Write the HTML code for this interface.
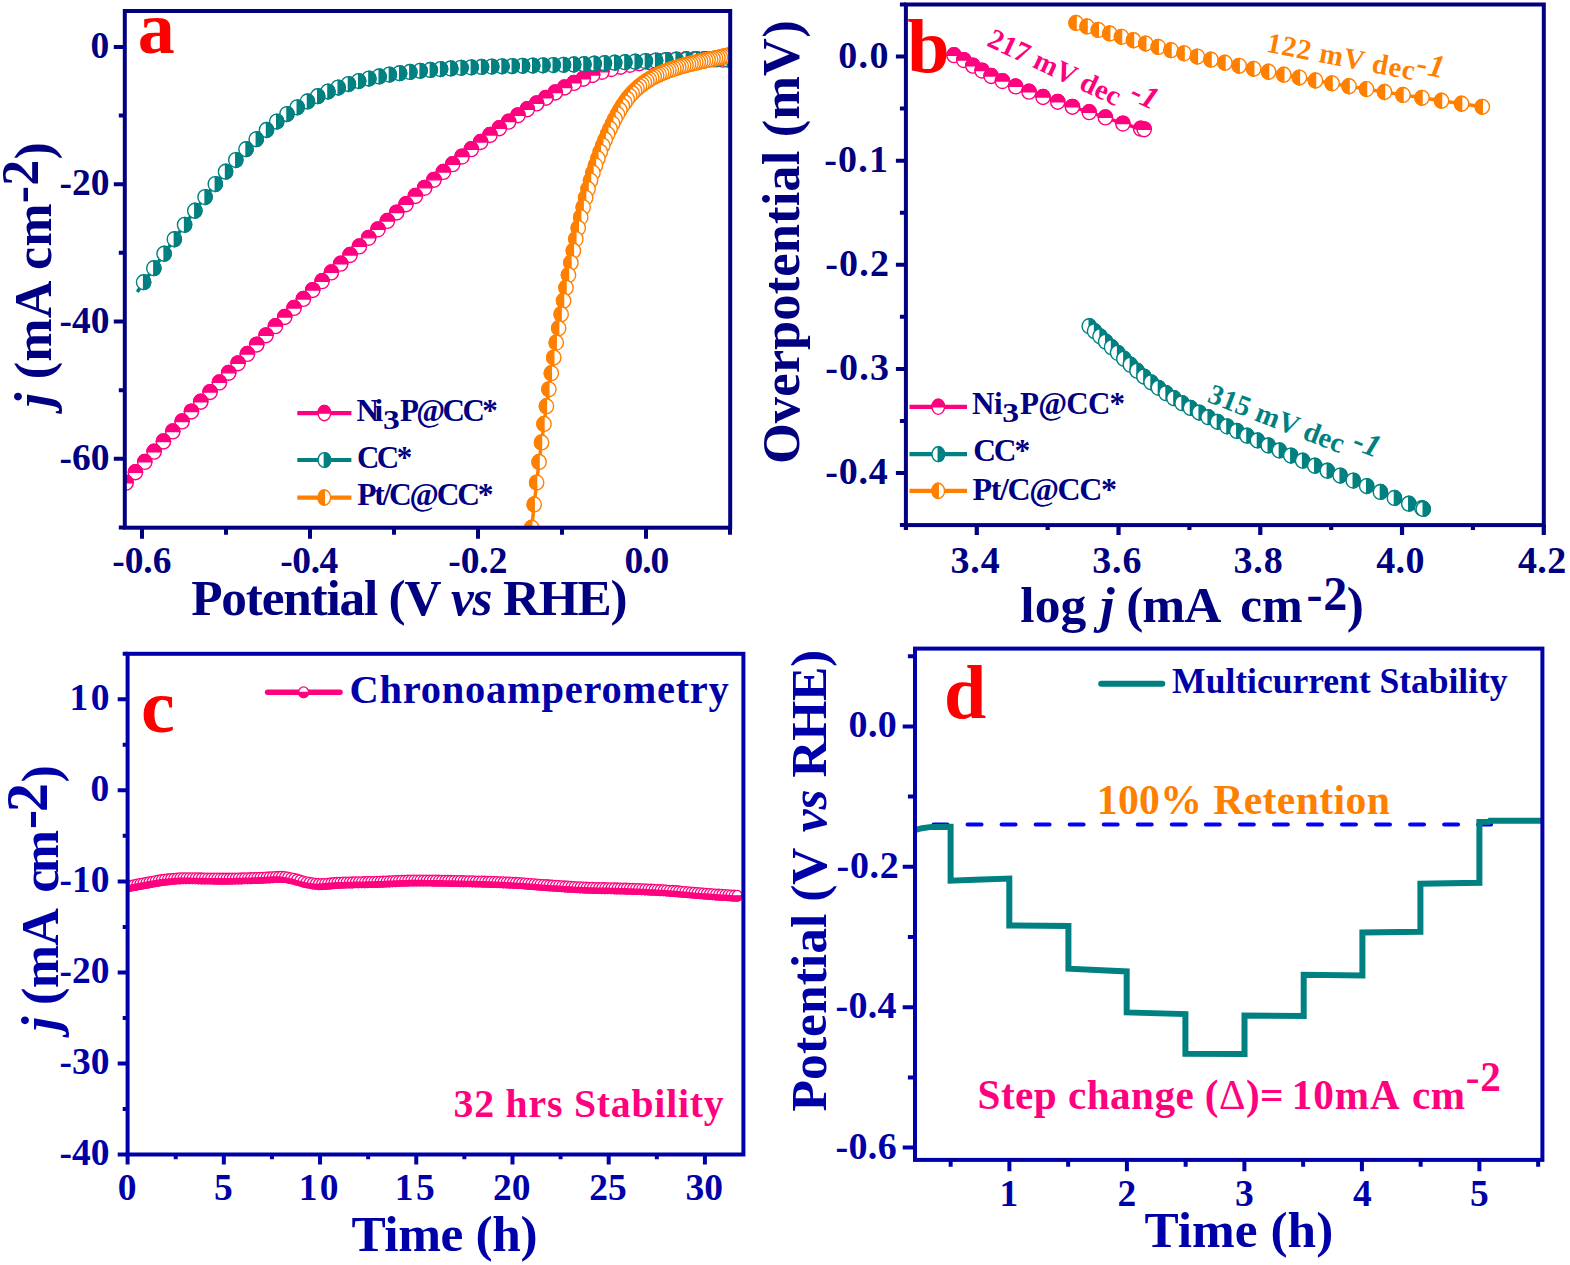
<!DOCTYPE html>
<html lang="en"><head><meta charset="utf-8"><title>Figure</title>
<style>
html,body{margin:0;padding:0;background:#fff;}
svg{display:block;}
svg text{font-family:"Liberation Serif","DejaVu Serif",serif;font-weight:bold;white-space:pre;}
</style></head><body>
<svg width="1570" height="1265" viewBox="0 0 1570 1265">
<defs>
<g id="mp"><ellipse rx="7.15" ry="7.45" fill="#fff" stroke="#ff007f" stroke-width="1.4"/><path d="M-7.15 0A7.15 7.45 0 0 1 7.15 0Z" fill="#ff007f" stroke="#ff007f" stroke-width="1.4"/></g>
<g id="mt"><ellipse rx="7.15" ry="7.45" fill="#fff" stroke="#008080" stroke-width="1.4"/><path d="M0 -7.45A7.15 7.45 0 0 1 0 7.45Z" fill="#008080" stroke="#008080" stroke-width="1.4"/></g>
<g id="mo"><ellipse rx="7.15" ry="7.45" fill="#fff" stroke="#ff8000" stroke-width="1.4"/><path d="M0 -7.45A7.15 7.45 0 0 0 0 7.45Z" fill="#ff8000" stroke="#ff8000" stroke-width="1.4"/></g>
<g id="mc"><ellipse rx="5.0" ry="5.4" fill="#fff" stroke="#ff007f" stroke-width="1.3"/><path d="M-5.0 0A5.0 5.4 0 0 0 5.0 0Z" fill="#ff007f" stroke="#ff007f" stroke-width="1.3"/></g>
<g id="mpl"><ellipse rx="6.3" ry="7.6" fill="#fff" stroke="#ff007f" stroke-width="1.4"/><path d="M-6.3 0A6.3 7.6 0 0 1 6.3 0Z" fill="#ff007f" stroke="#ff007f" stroke-width="1.4"/></g>
<g id="mtl"><ellipse rx="6.3" ry="7.4" fill="#fff" stroke="#008080" stroke-width="1.4"/><path d="M0 -7.4A6.3 7.4 0 0 1 0 7.4Z" fill="#008080" stroke="#008080" stroke-width="1.4"/></g>
<g id="mol"><ellipse rx="6.3" ry="7.6" fill="#fff" stroke="#ff8000" stroke-width="1.4"/><path d="M0 -7.6A6.3 7.6 0 0 0 0 7.6Z" fill="#ff8000" stroke="#ff8000" stroke-width="1.4"/></g>
<clipPath id="ca"><rect x="124.8" y="11" width="605.4" height="516.7"/></clipPath>
<clipPath id="cb"><rect x="905.9" y="4.5" width="637.9" height="520.6"/></clipPath>
<clipPath id="cc"><rect x="127.6" y="653.8" width="615.8" height="500.7"/></clipPath>
<clipPath id="cd"><rect x="915" y="648.6" width="627.4" height="511.3"/></clipPath>
</defs>
<rect width="1570" height="1265" fill="#fff"/>
<g clip-path="url(#ca)">
<path d="M723.22 59.69L713.89 59.42L704.56 59.27L695.23 59.26L685.9 59.4L676.57 59.72L667.24 60.24L657.91 60.98L648.58 61.98L639.25 63.26L629.92 64.85L620.59 66.79L611.26 69.11L601.93 71.86L592.6 75.07L583.27 78.76L573.94 82.91L564.61 87.5L555.28 92.48L545.95 97.8L536.62 103.4L527.29 109.25L517.96 115.34L508.63 121.67L499.3 128.23L489.97 135.01L480.64 142.01L471.31 149.22L461.98 156.61L452.65 164.19L443.32 171.94L433.99 179.83L424.66 187.86L415.33 196L406 204.24L396.67 212.56L387.34 220.94L378.01 229.37L368.68 237.86L359.35 246.4L350.02 255.01L340.69 263.68L331.36 272.4L322.03 281.19L312.7 290.05L303.37 298.97L294.04 307.95L284.71 317.01L275.38 326.13L266.05 335.32L256.72 344.59L247.39 353.93L238.06 363.34L228.73 372.83L219.4 382.4L210.07 392.04L200.74 401.77L191.41 411.58L182.08 421.47L172.75 431.45L163.42 441.52L154.09 451.68L144.76 461.92L135.43 472.26L126.1 482.7" fill="none" stroke="#ff007f" stroke-width="3.5" stroke-linejoin="round"/>
<use href="#mp" x="723.22" y="59.69"/><use href="#mp" x="713.89" y="59.42"/><use href="#mp" x="704.56" y="59.27"/><use href="#mp" x="695.23" y="59.26"/><use href="#mp" x="685.9" y="59.4"/><use href="#mp" x="676.57" y="59.72"/><use href="#mp" x="667.24" y="60.24"/><use href="#mp" x="657.91" y="60.98"/><use href="#mp" x="648.58" y="61.98"/><use href="#mp" x="639.25" y="63.26"/><use href="#mp" x="629.92" y="64.85"/><use href="#mp" x="620.59" y="66.79"/><use href="#mp" x="611.26" y="69.11"/><use href="#mp" x="601.93" y="71.86"/><use href="#mp" x="592.6" y="75.07"/><use href="#mp" x="583.27" y="78.76"/><use href="#mp" x="573.94" y="82.91"/><use href="#mp" x="564.61" y="87.5"/><use href="#mp" x="555.28" y="92.48"/><use href="#mp" x="545.95" y="97.8"/><use href="#mp" x="536.62" y="103.4"/><use href="#mp" x="527.29" y="109.25"/><use href="#mp" x="517.96" y="115.34"/><use href="#mp" x="508.63" y="121.67"/><use href="#mp" x="499.3" y="128.23"/><use href="#mp" x="489.97" y="135.01"/><use href="#mp" x="480.64" y="142.01"/><use href="#mp" x="471.31" y="149.22"/><use href="#mp" x="461.98" y="156.61"/><use href="#mp" x="452.65" y="164.19"/><use href="#mp" x="443.32" y="171.94"/><use href="#mp" x="433.99" y="179.83"/><use href="#mp" x="424.66" y="187.86"/><use href="#mp" x="415.33" y="196"/><use href="#mp" x="406" y="204.24"/><use href="#mp" x="396.67" y="212.56"/><use href="#mp" x="387.34" y="220.94"/><use href="#mp" x="378.01" y="229.37"/><use href="#mp" x="368.68" y="237.86"/><use href="#mp" x="359.35" y="246.4"/><use href="#mp" x="350.02" y="255.01"/><use href="#mp" x="340.69" y="263.68"/><use href="#mp" x="331.36" y="272.4"/><use href="#mp" x="322.03" y="281.19"/><use href="#mp" x="312.7" y="290.05"/><use href="#mp" x="303.37" y="298.97"/><use href="#mp" x="294.04" y="307.95"/><use href="#mp" x="284.71" y="317.01"/><use href="#mp" x="275.38" y="326.13"/><use href="#mp" x="266.05" y="335.32"/><use href="#mp" x="256.72" y="344.59"/><use href="#mp" x="247.39" y="353.93"/><use href="#mp" x="238.06" y="363.34"/><use href="#mp" x="228.73" y="372.83"/><use href="#mp" x="219.4" y="382.4"/><use href="#mp" x="210.07" y="392.04"/><use href="#mp" x="200.74" y="401.77"/><use href="#mp" x="191.41" y="411.58"/><use href="#mp" x="182.08" y="421.47"/><use href="#mp" x="172.75" y="431.45"/><use href="#mp" x="163.42" y="441.52"/><use href="#mp" x="154.09" y="451.68"/><use href="#mp" x="144.76" y="461.92"/><use href="#mp" x="135.43" y="472.26"/><use href="#mp" x="126.1" y="482.7"/>
</g>
<path d="M143.6 282.4L137.3 292" stroke="#008080" stroke-width="3.5" stroke-linecap="butt"/>
<g clip-path="url(#ca)">
<path d="M727.28 59.37L717.04 59.2L706.8 59.17L696.56 59.27L686.32 59.48L676.08 59.78L665.84 60.17L655.6 60.62L645.36 61.11L635.12 61.64L624.88 62.18L614.64 62.71L604.4 63.23L594.16 63.71L583.92 64.13L573.68 64.5L563.44 64.81L553.2 65.08L542.96 65.33L532.72 65.56L522.48 65.79L512.24 66.03L502 66.3L491.76 66.6L481.52 66.96L471.28 67.37L461.04 67.86L450.8 68.44L440.56 69.11L430.32 69.9L420.08 70.82L409.84 71.88L399.6 73.13L389.36 74.62L379.12 76.4L368.88 78.53L358.64 81.06L348.4 84.06L338.16 87.55L327.92 91.57L317.68 96.17L307.44 101.4L297.2 107.35L286.96 114.07L276.72 121.61L266.48 129.98L256.24 139.18L246 149.21L235.76 160.06L225.52 171.69L215.28 184.07L205.04 197.12L194.8 210.76L184.56 224.86L174.32 239.25L164.08 253.75L153.84 268.15L143.6 282.17" fill="none" stroke="#008080" stroke-width="3.5" stroke-linejoin="round"/>
<use href="#mt" x="727.28" y="59.37"/><use href="#mt" x="717.04" y="59.2"/><use href="#mt" x="706.8" y="59.17"/><use href="#mt" x="696.56" y="59.27"/><use href="#mt" x="686.32" y="59.48"/><use href="#mt" x="676.08" y="59.78"/><use href="#mt" x="665.84" y="60.17"/><use href="#mt" x="655.6" y="60.62"/><use href="#mt" x="645.36" y="61.11"/><use href="#mt" x="635.12" y="61.64"/><use href="#mt" x="624.88" y="62.18"/><use href="#mt" x="614.64" y="62.71"/><use href="#mt" x="604.4" y="63.23"/><use href="#mt" x="594.16" y="63.71"/><use href="#mt" x="583.92" y="64.13"/><use href="#mt" x="573.68" y="64.5"/><use href="#mt" x="563.44" y="64.81"/><use href="#mt" x="553.2" y="65.08"/><use href="#mt" x="542.96" y="65.33"/><use href="#mt" x="532.72" y="65.56"/><use href="#mt" x="522.48" y="65.79"/><use href="#mt" x="512.24" y="66.03"/><use href="#mt" x="502" y="66.3"/><use href="#mt" x="491.76" y="66.6"/><use href="#mt" x="481.52" y="66.96"/><use href="#mt" x="471.28" y="67.37"/><use href="#mt" x="461.04" y="67.86"/><use href="#mt" x="450.8" y="68.44"/><use href="#mt" x="440.56" y="69.11"/><use href="#mt" x="430.32" y="69.9"/><use href="#mt" x="420.08" y="70.82"/><use href="#mt" x="409.84" y="71.88"/><use href="#mt" x="399.6" y="73.13"/><use href="#mt" x="389.36" y="74.62"/><use href="#mt" x="379.12" y="76.4"/><use href="#mt" x="368.88" y="78.53"/><use href="#mt" x="358.64" y="81.06"/><use href="#mt" x="348.4" y="84.06"/><use href="#mt" x="338.16" y="87.55"/><use href="#mt" x="327.92" y="91.57"/><use href="#mt" x="317.68" y="96.17"/><use href="#mt" x="307.44" y="101.4"/><use href="#mt" x="297.2" y="107.35"/><use href="#mt" x="286.96" y="114.07"/><use href="#mt" x="276.72" y="121.61"/><use href="#mt" x="266.48" y="129.98"/><use href="#mt" x="256.24" y="139.18"/><use href="#mt" x="246" y="149.21"/><use href="#mt" x="235.76" y="160.06"/><use href="#mt" x="225.52" y="171.69"/><use href="#mt" x="215.28" y="184.07"/><use href="#mt" x="205.04" y="197.12"/><use href="#mt" x="194.8" y="210.76"/><use href="#mt" x="184.56" y="224.86"/><use href="#mt" x="174.32" y="239.25"/><use href="#mt" x="164.08" y="253.75"/><use href="#mt" x="153.84" y="268.15"/><use href="#mt" x="143.6" y="282.17"/>
</g>
<g clip-path="url(#ca)">
<path d="M730.2 55.15L727.75 55.69L725.3 56.23L722.85 56.76L720.4 57.28L717.95 57.8L715.5 58.31L713.05 58.82L710.6 59.33L708.15 59.85L705.7 60.37L703.25 60.9L700.8 61.44L698.35 61.99L695.9 62.55L693.45 63.13L691 63.73L688.55 64.35L686.1 64.99L683.65 65.66L681.2 66.36L678.75 67.09L676.3 67.85L673.85 68.64L671.4 69.48L668.95 70.36L666.5 71.29L664.05 72.27L661.6 73.3L659.15 74.39L656.7 75.55L654.25 76.78L651.8 78.09L649.35 79.5L646.9 81L644.45 82.63L642 84.39L639.55 86.31L637.1 88.41L634.65 90.72L632.2 93.27L629.75 96.05L627.3 99.1L624.85 102.43L622.4 106.06L619.95 109.99L617.5 114.24L615.05 118.79L612.6 123.64L610.15 128.74L607.7 134.08L605.25 139.7L602.8 145.6L600.35 151.83L597.9 158.42L595.45 165.38L593 172.77L590.55 180.62L588.1 188.97L585.65 197.86L583.2 207.31L580.75 217.35L578.3 227.96L575.85 239.12L573.4 250.74L570.95 262.7L568.5 275.01L566.05 287.68L563.6 300.75L561.15 314.24L558.7 328.18L556.25 342.62L553.8 357.59L551.35 373.15L548.9 389.34L546.45 406.24L544 423.91L541.55 442.45L539.1 461.97L536.65 482.58L534.2 504.45L531.75 527.75" fill="none" stroke="#ff8000" stroke-width="3.5" stroke-linejoin="round"/>
<use href="#mo" x="730.2" y="55.15"/><use href="#mo" x="727.75" y="55.69"/><use href="#mo" x="725.3" y="56.23"/><use href="#mo" x="722.85" y="56.76"/><use href="#mo" x="720.4" y="57.28"/><use href="#mo" x="717.95" y="57.8"/><use href="#mo" x="715.5" y="58.31"/><use href="#mo" x="713.05" y="58.82"/><use href="#mo" x="710.6" y="59.33"/><use href="#mo" x="708.15" y="59.85"/><use href="#mo" x="705.7" y="60.37"/><use href="#mo" x="703.25" y="60.9"/><use href="#mo" x="700.8" y="61.44"/><use href="#mo" x="698.35" y="61.99"/><use href="#mo" x="695.9" y="62.55"/><use href="#mo" x="693.45" y="63.13"/><use href="#mo" x="691" y="63.73"/><use href="#mo" x="688.55" y="64.35"/><use href="#mo" x="686.1" y="64.99"/><use href="#mo" x="683.65" y="65.66"/><use href="#mo" x="681.2" y="66.36"/><use href="#mo" x="678.75" y="67.09"/><use href="#mo" x="676.3" y="67.85"/><use href="#mo" x="673.85" y="68.64"/><use href="#mo" x="671.4" y="69.48"/><use href="#mo" x="668.95" y="70.36"/><use href="#mo" x="666.5" y="71.29"/><use href="#mo" x="664.05" y="72.27"/><use href="#mo" x="661.6" y="73.3"/><use href="#mo" x="659.15" y="74.39"/><use href="#mo" x="656.7" y="75.55"/><use href="#mo" x="654.25" y="76.78"/><use href="#mo" x="651.8" y="78.09"/><use href="#mo" x="649.35" y="79.5"/><use href="#mo" x="646.9" y="81"/><use href="#mo" x="644.45" y="82.63"/><use href="#mo" x="642" y="84.39"/><use href="#mo" x="639.55" y="86.31"/><use href="#mo" x="637.1" y="88.41"/><use href="#mo" x="634.65" y="90.72"/><use href="#mo" x="632.2" y="93.27"/><use href="#mo" x="629.75" y="96.05"/><use href="#mo" x="627.3" y="99.1"/><use href="#mo" x="624.85" y="102.43"/><use href="#mo" x="622.4" y="106.06"/><use href="#mo" x="619.95" y="109.99"/><use href="#mo" x="617.5" y="114.24"/><use href="#mo" x="615.05" y="118.79"/><use href="#mo" x="612.6" y="123.64"/><use href="#mo" x="610.15" y="128.74"/><use href="#mo" x="607.7" y="134.08"/><use href="#mo" x="605.25" y="139.7"/><use href="#mo" x="602.8" y="145.6"/><use href="#mo" x="600.35" y="151.83"/><use href="#mo" x="597.9" y="158.42"/><use href="#mo" x="595.45" y="165.38"/><use href="#mo" x="593" y="172.77"/><use href="#mo" x="590.55" y="180.62"/><use href="#mo" x="588.1" y="188.97"/><use href="#mo" x="585.65" y="197.86"/><use href="#mo" x="583.2" y="207.31"/><use href="#mo" x="580.75" y="217.35"/><use href="#mo" x="578.3" y="227.96"/><use href="#mo" x="575.85" y="239.12"/><use href="#mo" x="573.4" y="250.74"/><use href="#mo" x="570.95" y="262.7"/><use href="#mo" x="568.5" y="275.01"/><use href="#mo" x="566.05" y="287.68"/><use href="#mo" x="563.6" y="300.75"/><use href="#mo" x="561.15" y="314.24"/><use href="#mo" x="558.7" y="328.18"/><use href="#mo" x="556.25" y="342.62"/><use href="#mo" x="553.8" y="357.59"/><use href="#mo" x="551.35" y="373.15"/><use href="#mo" x="548.9" y="389.34"/><use href="#mo" x="546.45" y="406.24"/><use href="#mo" x="544" y="423.91"/><use href="#mo" x="541.55" y="442.45"/><use href="#mo" x="539.1" y="461.97"/><use href="#mo" x="536.65" y="482.58"/><use href="#mo" x="534.2" y="504.45"/><use href="#mo" x="531.75" y="527.75"/>
</g>
<rect x="124.8" y="11" width="605.4" height="516.7" fill="none" stroke="#000080" stroke-width="4"/>
<path d="M142 527.7v11M310 527.7v11M478 527.7v11M646 527.7v11" stroke="#000080" stroke-width="4" fill="none"/>
<path d="M226 527.7v7M394 527.7v7M562 527.7v7M730 527.7v7" stroke="#000080" stroke-width="4" fill="none"/>
<path d="M124.8 46.9h-11M124.8 184.2h-11M124.8 321.5h-11M124.8 458.8h-11" stroke="#000080" stroke-width="4" fill="none"/>
<path d="M124.8 115.55h-6M124.8 252.85h-6M124.8 390.15h-6M124.8 527.45h-6" stroke="#000080" stroke-width="4" fill="none"/>
<text x="112.2" y="572.8" font-size="37.5" fill="#000080" textLength="59.18" lengthAdjust="spacing">-0.6</text>
<text x="280.2" y="572.8" font-size="37.5" fill="#000080" textLength="58.14" lengthAdjust="spacing">-0.4</text>
<text x="448.2" y="572.8" font-size="37.5" fill="#000080" textLength="59.18" lengthAdjust="spacing">-0.2</text>
<text x="624.5" y="572.8" font-size="37.5" fill="#000080" textLength="44.86" lengthAdjust="spacing">0.0</text>
<text x="90.6" y="58" font-size="37.5" fill="#000080">0</text>
<text x="59.6" y="195.3" font-size="37.5" fill="#000080">-20</text>
<text x="59.6" y="332.6" font-size="37.5" fill="#000080">-40</text>
<text x="59.6" y="469.9" font-size="37.5" fill="#000080">-60</text>
<text x="191.2" y="614.8" font-size="51.3" fill="#000080" textLength="436.33" lengthAdjust="spacing">Potential (V <tspan font-style="italic">vs</tspan> RHE)</text>
<text x="51.2" y="407.2" font-size="52" fill="#000080" textLength="265.1" lengthAdjust="spacing" transform="rotate(-90 51.2 407.2)"><tspan font-style="italic">j</tspan> (mA cm<tspan dy="-0.26em">-2</tspan><tspan dy="0.26em">)</tspan></text>
<text x="137.7" y="52.6" font-size="74" fill="#ff0000">a</text>
<path d="M297.3 413.1H351.4" stroke="#ff007f" stroke-width="4.2"/>
<use href="#mpl" x="324.35" y="413.1"/>
<path d="M297.3 460H351.4" stroke="#008080" stroke-width="4.2"/>
<use href="#mtl" x="324.35" y="460"/>
<path d="M297.3 497.6H351.4" stroke="#ff8000" stroke-width="4.2"/>
<use href="#mol" x="324.35" y="497.6"/>
<text x="356.6" y="420.5" font-size="31" fill="#000080" textLength="26.56" lengthAdjust="spacing">Ni</text>
<text transform="translate(383.09 429.15) scale(0.3364 0.2765)" font-size="100" fill="#000080">3</text>
<text x="399.9" y="420.5" font-size="31" fill="#000080" textLength="97.92" lengthAdjust="spacing">P@CC*</text>
<text x="357" y="467.5" font-size="31" fill="#000080" textLength="55.22" lengthAdjust="spacing">CC*</text>
<text x="357.3" y="504.5" font-size="31.5" fill="#000080" textLength="136.09" lengthAdjust="spacing">Pt/C@CC*</text>
<g clip-path="url(#cb)">
<path d="M954 55.2L963.8 60.1L972.9 65.7L982 70.6L991.1 76L1002.4 81.1L1015.7 86.4L1029 91.7L1043 97L1057.7 101.8L1072.4 106.8L1089.2 112.2L1105.4 117.4L1122.9 123.6L1140.7 128.7L1144.2 129.3" fill="none" stroke="#ff007f" stroke-width="3.5" stroke-linejoin="round"/>
<use href="#mp" x="954" y="55.2"/><use href="#mp" x="963.8" y="60.1"/><use href="#mp" x="972.9" y="65.7"/><use href="#mp" x="982" y="70.6"/><use href="#mp" x="991.1" y="76"/><use href="#mp" x="1002.4" y="81.1"/><use href="#mp" x="1015.7" y="86.4"/><use href="#mp" x="1029" y="91.7"/><use href="#mp" x="1043" y="97"/><use href="#mp" x="1057.7" y="101.8"/><use href="#mp" x="1072.4" y="106.8"/><use href="#mp" x="1089.2" y="112.2"/><use href="#mp" x="1105.4" y="117.4"/><use href="#mp" x="1122.9" y="123.6"/><use href="#mp" x="1140.7" y="128.7"/><use href="#mp" x="1144.2" y="129.3"/>
</g>
<g clip-path="url(#cb)">
<path d="M1076.1 22.92L1087.09 26.46L1098.33 29.96L1109.8 33.43L1121.53 36.86L1133.51 40.24L1145.75 43.59L1158.26 46.89L1171.04 50.15L1184.09 53.36L1197.43 56.54L1211.06 59.66L1224.99 62.75L1239.22 65.79L1253.76 68.79L1268.62 71.75L1283.83 74.68L1299.47 77.59L1315.55 80.48L1332.09 83.37L1349.09 86.24L1366.57 89.12L1384.54 92L1403.02 94.89L1422.02 97.8L1441.56 100.75L1461.65 103.75L1482.3 106.8" fill="none" stroke="#ff8000" stroke-width="3.5" stroke-linejoin="round"/>
<use href="#mo" x="1076.1" y="22.92"/><use href="#mo" x="1087.09" y="26.46"/><use href="#mo" x="1098.33" y="29.96"/><use href="#mo" x="1109.8" y="33.43"/><use href="#mo" x="1121.53" y="36.86"/><use href="#mo" x="1133.51" y="40.24"/><use href="#mo" x="1145.75" y="43.59"/><use href="#mo" x="1158.26" y="46.89"/><use href="#mo" x="1171.04" y="50.15"/><use href="#mo" x="1184.09" y="53.36"/><use href="#mo" x="1197.43" y="56.54"/><use href="#mo" x="1211.06" y="59.66"/><use href="#mo" x="1224.99" y="62.75"/><use href="#mo" x="1239.22" y="65.79"/><use href="#mo" x="1253.76" y="68.79"/><use href="#mo" x="1268.62" y="71.75"/><use href="#mo" x="1283.83" y="74.68"/><use href="#mo" x="1299.47" y="77.59"/><use href="#mo" x="1315.55" y="80.48"/><use href="#mo" x="1332.09" y="83.37"/><use href="#mo" x="1349.09" y="86.24"/><use href="#mo" x="1366.57" y="89.12"/><use href="#mo" x="1384.54" y="92"/><use href="#mo" x="1403.02" y="94.89"/><use href="#mo" x="1422.02" y="97.8"/><use href="#mo" x="1441.56" y="100.75"/><use href="#mo" x="1461.65" y="103.75"/><use href="#mo" x="1482.3" y="106.8"/>
</g>
<g clip-path="url(#cb)">
<path d="M1089.2 326.15L1094.53 331.13L1100.01 336.29L1105.68 341.64L1111.53 347.17L1117.59 352.87L1123.84 358.73L1130.3 364.69L1136.98 370.67L1143.89 376.58L1151.02 382.34L1158.4 387.86L1166.02 393.14L1173.9 398.21L1182.04 403.13L1190.45 407.91L1199.15 412.59L1208.12 417.2L1217.37 421.78L1226.92 426.36L1236.77 430.97L1246.93 435.66L1257.41 440.46L1268.21 445.4L1279.33 450.45L1290.79 455.55L1302.6 460.67L1314.75 465.74L1327.27 470.71L1340.11 475.58L1353.23 480.61L1366.65 486.09L1380.38 491.94L1394.41 497.9L1408.75 503.7L1421.8 508.2L1423.2 508.93" fill="none" stroke="#008080" stroke-width="3.5" stroke-linejoin="round"/>
<use href="#mt" x="1089.2" y="326.15"/><use href="#mt" x="1094.53" y="331.13"/><use href="#mt" x="1100.01" y="336.29"/><use href="#mt" x="1105.68" y="341.64"/><use href="#mt" x="1111.53" y="347.17"/><use href="#mt" x="1117.59" y="352.87"/><use href="#mt" x="1123.84" y="358.73"/><use href="#mt" x="1130.3" y="364.69"/><use href="#mt" x="1136.98" y="370.67"/><use href="#mt" x="1143.89" y="376.58"/><use href="#mt" x="1151.02" y="382.34"/><use href="#mt" x="1158.4" y="387.86"/><use href="#mt" x="1166.02" y="393.14"/><use href="#mt" x="1173.9" y="398.21"/><use href="#mt" x="1182.04" y="403.13"/><use href="#mt" x="1190.45" y="407.91"/><use href="#mt" x="1199.15" y="412.59"/><use href="#mt" x="1208.12" y="417.2"/><use href="#mt" x="1217.37" y="421.78"/><use href="#mt" x="1226.92" y="426.36"/><use href="#mt" x="1236.77" y="430.97"/><use href="#mt" x="1246.93" y="435.66"/><use href="#mt" x="1257.41" y="440.46"/><use href="#mt" x="1268.21" y="445.4"/><use href="#mt" x="1279.33" y="450.45"/><use href="#mt" x="1290.79" y="455.55"/><use href="#mt" x="1302.6" y="460.67"/><use href="#mt" x="1314.75" y="465.74"/><use href="#mt" x="1327.27" y="470.71"/><use href="#mt" x="1340.11" y="475.58"/><use href="#mt" x="1353.23" y="480.61"/><use href="#mt" x="1366.65" y="486.09"/><use href="#mt" x="1380.38" y="491.94"/><use href="#mt" x="1394.41" y="497.9"/><use href="#mt" x="1408.75" y="503.7"/><use href="#mt" x="1421.8" y="508.2"/><use href="#mt" x="1423.2" y="508.93"/>
</g>
<rect x="905.9" y="4.5" width="637.9" height="520.6" fill="none" stroke="#000080" stroke-width="4"/>
<path d="M976.78 525.1v9.8M1118.53 525.1v9.8M1260.29 525.1v9.8M1402.04 525.1v9.8M1543.8 525.1v9.8" stroke="#000080" stroke-width="4.2" fill="none"/>
<path d="M905.9 525.1v4.8M1047.66 525.1v4.8M1189.41 525.1v4.8M1331.17 525.1v4.8M1472.92 525.1v4.8" stroke="#000080" stroke-width="4.2" fill="none"/>
<path d="M905.9 56.56h-10M905.9 160.68h-10M905.9 264.8h-10M905.9 368.92h-10M905.9 473.04h-10" stroke="#000080" stroke-width="4" fill="none"/>
<path d="M905.9 4.5h-6M905.9 108.62h-6M905.9 212.74h-6M905.9 316.86h-6M905.9 420.98h-6M905.9 525.1h-6" stroke="#000080" stroke-width="4" fill="none"/>
<text x="950.48" y="573" font-size="38" fill="#000080" textLength="49.19" lengthAdjust="spacing">3.4</text>
<text x="1092.23" y="573" font-size="38" fill="#000080" textLength="49.23" lengthAdjust="spacing">3.6</text>
<text x="1233.49" y="573" font-size="38" fill="#000080" textLength="49.26" lengthAdjust="spacing">3.8</text>
<text x="1376.24" y="573" font-size="38" fill="#000080" textLength="48.16" lengthAdjust="spacing">4.0</text>
<text x="1518" y="573" font-size="38" fill="#000080" textLength="48.16" lengthAdjust="spacing">4.2</text>
<text x="838.2" y="67.76" font-size="38" fill="#000080" textLength="50.28" lengthAdjust="spacing">0.0</text>
<text x="824.2" y="171.88" font-size="38" fill="#000080" textLength="63.87" lengthAdjust="spacing">-0.1</text>
<text x="825.2" y="276" font-size="38" fill="#000080" textLength="63.74" lengthAdjust="spacing">-0.2</text>
<text x="825.2" y="380.12" font-size="38" fill="#000080" textLength="63.74" lengthAdjust="spacing">-0.3</text>
<text x="825.2" y="484.24" font-size="38" fill="#000080" textLength="62.64" lengthAdjust="spacing">-0.4</text>
<text x="1020.3" y="621.6" font-size="51.5" fill="#000080" textLength="65.9" lengthAdjust="spacing">log</text>
<text x="1100.2" y="621.6" font-size="51.5" fill="#000080" textLength="25.01" lengthAdjust="spacing"><tspan font-style="italic">j</tspan></text>
<text x="1126.3" y="621.6" font-size="51.5" fill="#000080" textLength="95.06" lengthAdjust="spacing">(mA</text>
<text transform="translate(1240.35 621.6) scale(0.9484 1)" font-size="51.5" fill="#000080">cm</text>
<text x="1306.6" y="609.8" font-size="48" fill="#000080" textLength="40.56" lengthAdjust="spacing">-2</text>
<text x="1346.8" y="621.6" font-size="51.5" fill="#000080" textLength="22.27" lengthAdjust="spacing">)</text>
<text x="799.2" y="464.1" font-size="52.5" fill="#000080" textLength="443.73" lengthAdjust="spacing" transform="rotate(-90 799.2 464.1)">Overpotential (mV)</text>
<text x="907.3" y="72" font-size="76" fill="#ff0000">b</text>
<text x="985.7" y="45.27" font-size="28.6" fill="#ff007f" textLength="178.51" lengthAdjust="spacing" transform="rotate(25.2 985.7 45.27)">217 mV dec<tspan dy="-0.38em" font-style="italic" style="font-size:1.12em"> -1</tspan></text>
<text x="1265.54" y="51.62" font-size="28.6" fill="#ff8000" textLength="178.64" lengthAdjust="spacing" transform="rotate(11 1265.54 51.62)">122 mV dec<tspan dy="-0.24em" font-style="italic" style="font-size:1.12em">-1</tspan></text>
<text x="1206.37" y="401.64" font-size="28.6" fill="#008080" textLength="178.51" lengthAdjust="spacing" transform="rotate(21.2 1206.37 401.64)">315 mV dec<tspan dy="-0.27em" font-style="italic" style="font-size:1.12em"> -1</tspan></text>
<path d="M909.5 406.8H967" stroke="#ff007f" stroke-width="4.2"/>
<use href="#mpl" x="938.25" y="406.8"/>
<path d="M909.5 454.2H967" stroke="#008080" stroke-width="4.2"/>
<use href="#mtl" x="938.25" y="454.2"/>
<path d="M909.5 490.9H967" stroke="#ff8000" stroke-width="4.2"/>
<use href="#mol" x="938.25" y="490.9"/>
<text x="972.1" y="414.1" font-size="31" fill="#000080" textLength="30.43" lengthAdjust="spacing">Ni</text>
<text transform="translate(1002.19 421.64) scale(0.3364 0.2779)" font-size="100" fill="#000080">3</text>
<text x="1020" y="414.1" font-size="31" fill="#000080" textLength="105.1" lengthAdjust="spacing">P@CC*</text>
<text x="973.2" y="461" font-size="31.5" fill="#000080" textLength="57.07" lengthAdjust="spacing">CC*</text>
<text x="972.6" y="499.6" font-size="32" fill="#000080" textLength="144.39" lengthAdjust="spacing">Pt/C@CC*</text>
<g clip-path="url(#cc)">
<path d="M127.6 886.4L130.68 885.78L133.76 885.18L136.84 884.59L139.92 884.01L143 883.45L146.07 882.89L149.15 882.34L152.23 881.76L155.31 881.19L158.39 880.64L161.47 880.15L164.55 879.74L167.63 879.42L170.71 879.11L173.78 878.81L176.86 878.56L179.94 878.36L183.02 878.23L186.1 878.21L189.18 878.22L192.26 878.24L195.34 878.28L198.42 878.33L201.5 878.38L204.57 878.43L207.65 878.49L210.73 878.54L213.81 878.58L216.89 878.62L219.97 878.65L223.05 878.66L226.13 878.65L229.21 878.63L232.29 878.59L235.37 878.54L238.44 878.48L241.52 878.4L244.6 878.32L247.68 878.23L250.76 878.13L253.84 878.03L256.92 877.93L260 877.83L263.08 877.72L266.15 877.57L269.23 877.39L272.31 877.19L275.39 877.02L278.47 876.89L281.55 876.84L284.63 877.04L287.71 877.54L290.79 878.18L293.87 878.82L296.94 879.63L300.02 880.57L303.1 881.49L306.18 882.23L309.26 882.8L312.34 883.36L315.42 883.81L318.5 884.08L321.58 884.1L324.66 883.96L327.74 883.71L330.81 883.42L333.89 883.12L336.97 882.88L340.05 882.73L343.13 882.62L346.21 882.53L349.29 882.45L352.37 882.38L355.45 882.32L358.52 882.26L361.6 882.2L364.68 882.14L367.76 882.08L370.84 882.02L373.92 881.95L377 881.87L380.08 881.77L383.16 881.66L386.24 881.53L389.31 881.39L392.39 881.24L395.47 881.1L398.55 880.96L401.63 880.82L404.71 880.71L407.79 880.61L410.87 880.53L413.95 880.49L417.03 880.48L420.11 880.49L423.18 880.5L426.26 880.52L429.34 880.55L432.42 880.58L435.5 880.62L438.58 880.66L441.66 880.71L444.74 880.77L447.82 880.82L450.89 880.88L453.97 880.95L457.05 881.01L460.13 881.08L463.21 881.15L466.29 881.22L469.37 881.29L472.45 881.36L475.53 881.43L478.61 881.5L481.69 881.59L484.76 881.67L487.84 881.77L490.92 881.87L494 881.98L497.08 882.1L500.16 882.22L503.24 882.34L506.32 882.48L509.4 882.61L512.48 882.76L515.55 882.91L518.63 883.1L521.71 883.3L524.79 883.51L527.87 883.74L530.95 883.98L534.03 884.22L537.11 884.47L540.19 884.71L543.26 884.94L546.34 885.17L549.42 885.39L552.5 885.59L555.58 885.79L558.66 886L561.74 886.21L564.82 886.42L567.9 886.62L570.98 886.82L574.05 887.01L577.13 887.19L580.21 887.36L583.29 887.51L586.37 887.65L589.45 887.76L592.53 887.86L595.61 887.95L598.69 888.02L601.77 888.09L604.85 888.15L607.92 888.21L611 888.27L614.08 888.33L617.16 888.4L620.24 888.47L623.32 888.54L626.4 888.63L629.48 888.72L632.56 888.83L635.63 888.94L638.71 889.07L641.79 889.2L644.87 889.34L647.95 889.48L651.03 889.64L654.11 889.8L657.19 889.96L660.27 890.13L663.35 890.31L666.42 890.49L669.5 890.69L672.58 890.91L675.66 891.16L678.74 891.41L681.82 891.68L684.9 891.96L687.98 892.24L691.06 892.52L694.14 892.79L697.22 893.06L700.29 893.32L703.37 893.57L706.45 893.79L709.53 894.01L712.61 894.23L715.69 894.45L718.77 894.66L721.85 894.86L724.93 895.06L728 895.26L731.08 895.45L734.16 895.64L737.24 895.82" fill="none" stroke="#ff007f" stroke-width="5.5" stroke-linejoin="round"/>
<use href="#mc" x="127.6" y="886.4"/><use href="#mc" x="130.68" y="885.78"/><use href="#mc" x="133.76" y="885.18"/><use href="#mc" x="136.84" y="884.59"/><use href="#mc" x="139.92" y="884.01"/><use href="#mc" x="143" y="883.45"/><use href="#mc" x="146.07" y="882.89"/><use href="#mc" x="149.15" y="882.34"/><use href="#mc" x="152.23" y="881.76"/><use href="#mc" x="155.31" y="881.19"/><use href="#mc" x="158.39" y="880.64"/><use href="#mc" x="161.47" y="880.15"/><use href="#mc" x="164.55" y="879.74"/><use href="#mc" x="167.63" y="879.42"/><use href="#mc" x="170.71" y="879.11"/><use href="#mc" x="173.78" y="878.81"/><use href="#mc" x="176.86" y="878.56"/><use href="#mc" x="179.94" y="878.36"/><use href="#mc" x="183.02" y="878.23"/><use href="#mc" x="186.1" y="878.21"/><use href="#mc" x="189.18" y="878.22"/><use href="#mc" x="192.26" y="878.24"/><use href="#mc" x="195.34" y="878.28"/><use href="#mc" x="198.42" y="878.33"/><use href="#mc" x="201.5" y="878.38"/><use href="#mc" x="204.57" y="878.43"/><use href="#mc" x="207.65" y="878.49"/><use href="#mc" x="210.73" y="878.54"/><use href="#mc" x="213.81" y="878.58"/><use href="#mc" x="216.89" y="878.62"/><use href="#mc" x="219.97" y="878.65"/><use href="#mc" x="223.05" y="878.66"/><use href="#mc" x="226.13" y="878.65"/><use href="#mc" x="229.21" y="878.63"/><use href="#mc" x="232.29" y="878.59"/><use href="#mc" x="235.37" y="878.54"/><use href="#mc" x="238.44" y="878.48"/><use href="#mc" x="241.52" y="878.4"/><use href="#mc" x="244.6" y="878.32"/><use href="#mc" x="247.68" y="878.23"/><use href="#mc" x="250.76" y="878.13"/><use href="#mc" x="253.84" y="878.03"/><use href="#mc" x="256.92" y="877.93"/><use href="#mc" x="260" y="877.83"/><use href="#mc" x="263.08" y="877.72"/><use href="#mc" x="266.15" y="877.57"/><use href="#mc" x="269.23" y="877.39"/><use href="#mc" x="272.31" y="877.19"/><use href="#mc" x="275.39" y="877.02"/><use href="#mc" x="278.47" y="876.89"/><use href="#mc" x="281.55" y="876.84"/><use href="#mc" x="284.63" y="877.04"/><use href="#mc" x="287.71" y="877.54"/><use href="#mc" x="290.79" y="878.18"/><use href="#mc" x="293.87" y="878.82"/><use href="#mc" x="296.94" y="879.63"/><use href="#mc" x="300.02" y="880.57"/><use href="#mc" x="303.1" y="881.49"/><use href="#mc" x="306.18" y="882.23"/><use href="#mc" x="309.26" y="882.8"/><use href="#mc" x="312.34" y="883.36"/><use href="#mc" x="315.42" y="883.81"/><use href="#mc" x="318.5" y="884.08"/><use href="#mc" x="321.58" y="884.1"/><use href="#mc" x="324.66" y="883.96"/><use href="#mc" x="327.74" y="883.71"/><use href="#mc" x="330.81" y="883.42"/><use href="#mc" x="333.89" y="883.12"/><use href="#mc" x="336.97" y="882.88"/><use href="#mc" x="340.05" y="882.73"/><use href="#mc" x="343.13" y="882.62"/><use href="#mc" x="346.21" y="882.53"/><use href="#mc" x="349.29" y="882.45"/><use href="#mc" x="352.37" y="882.38"/><use href="#mc" x="355.45" y="882.32"/><use href="#mc" x="358.52" y="882.26"/><use href="#mc" x="361.6" y="882.2"/><use href="#mc" x="364.68" y="882.14"/><use href="#mc" x="367.76" y="882.08"/><use href="#mc" x="370.84" y="882.02"/><use href="#mc" x="373.92" y="881.95"/><use href="#mc" x="377" y="881.87"/><use href="#mc" x="380.08" y="881.77"/><use href="#mc" x="383.16" y="881.66"/><use href="#mc" x="386.24" y="881.53"/><use href="#mc" x="389.31" y="881.39"/><use href="#mc" x="392.39" y="881.24"/><use href="#mc" x="395.47" y="881.1"/><use href="#mc" x="398.55" y="880.96"/><use href="#mc" x="401.63" y="880.82"/><use href="#mc" x="404.71" y="880.71"/><use href="#mc" x="407.79" y="880.61"/><use href="#mc" x="410.87" y="880.53"/><use href="#mc" x="413.95" y="880.49"/><use href="#mc" x="417.03" y="880.48"/><use href="#mc" x="420.11" y="880.49"/><use href="#mc" x="423.18" y="880.5"/><use href="#mc" x="426.26" y="880.52"/><use href="#mc" x="429.34" y="880.55"/><use href="#mc" x="432.42" y="880.58"/><use href="#mc" x="435.5" y="880.62"/><use href="#mc" x="438.58" y="880.66"/><use href="#mc" x="441.66" y="880.71"/><use href="#mc" x="444.74" y="880.77"/><use href="#mc" x="447.82" y="880.82"/><use href="#mc" x="450.89" y="880.88"/><use href="#mc" x="453.97" y="880.95"/><use href="#mc" x="457.05" y="881.01"/><use href="#mc" x="460.13" y="881.08"/><use href="#mc" x="463.21" y="881.15"/><use href="#mc" x="466.29" y="881.22"/><use href="#mc" x="469.37" y="881.29"/><use href="#mc" x="472.45" y="881.36"/><use href="#mc" x="475.53" y="881.43"/><use href="#mc" x="478.61" y="881.5"/><use href="#mc" x="481.69" y="881.59"/><use href="#mc" x="484.76" y="881.67"/><use href="#mc" x="487.84" y="881.77"/><use href="#mc" x="490.92" y="881.87"/><use href="#mc" x="494" y="881.98"/><use href="#mc" x="497.08" y="882.1"/><use href="#mc" x="500.16" y="882.22"/><use href="#mc" x="503.24" y="882.34"/><use href="#mc" x="506.32" y="882.48"/><use href="#mc" x="509.4" y="882.61"/><use href="#mc" x="512.48" y="882.76"/><use href="#mc" x="515.55" y="882.91"/><use href="#mc" x="518.63" y="883.1"/><use href="#mc" x="521.71" y="883.3"/><use href="#mc" x="524.79" y="883.51"/><use href="#mc" x="527.87" y="883.74"/><use href="#mc" x="530.95" y="883.98"/><use href="#mc" x="534.03" y="884.22"/><use href="#mc" x="537.11" y="884.47"/><use href="#mc" x="540.19" y="884.71"/><use href="#mc" x="543.26" y="884.94"/><use href="#mc" x="546.34" y="885.17"/><use href="#mc" x="549.42" y="885.39"/><use href="#mc" x="552.5" y="885.59"/><use href="#mc" x="555.58" y="885.79"/><use href="#mc" x="558.66" y="886"/><use href="#mc" x="561.74" y="886.21"/><use href="#mc" x="564.82" y="886.42"/><use href="#mc" x="567.9" y="886.62"/><use href="#mc" x="570.98" y="886.82"/><use href="#mc" x="574.05" y="887.01"/><use href="#mc" x="577.13" y="887.19"/><use href="#mc" x="580.21" y="887.36"/><use href="#mc" x="583.29" y="887.51"/><use href="#mc" x="586.37" y="887.65"/><use href="#mc" x="589.45" y="887.76"/><use href="#mc" x="592.53" y="887.86"/><use href="#mc" x="595.61" y="887.95"/><use href="#mc" x="598.69" y="888.02"/><use href="#mc" x="601.77" y="888.09"/><use href="#mc" x="604.85" y="888.15"/><use href="#mc" x="607.92" y="888.21"/><use href="#mc" x="611" y="888.27"/><use href="#mc" x="614.08" y="888.33"/><use href="#mc" x="617.16" y="888.4"/><use href="#mc" x="620.24" y="888.47"/><use href="#mc" x="623.32" y="888.54"/><use href="#mc" x="626.4" y="888.63"/><use href="#mc" x="629.48" y="888.72"/><use href="#mc" x="632.56" y="888.83"/><use href="#mc" x="635.63" y="888.94"/><use href="#mc" x="638.71" y="889.07"/><use href="#mc" x="641.79" y="889.2"/><use href="#mc" x="644.87" y="889.34"/><use href="#mc" x="647.95" y="889.48"/><use href="#mc" x="651.03" y="889.64"/><use href="#mc" x="654.11" y="889.8"/><use href="#mc" x="657.19" y="889.96"/><use href="#mc" x="660.27" y="890.13"/><use href="#mc" x="663.35" y="890.31"/><use href="#mc" x="666.42" y="890.49"/><use href="#mc" x="669.5" y="890.69"/><use href="#mc" x="672.58" y="890.91"/><use href="#mc" x="675.66" y="891.16"/><use href="#mc" x="678.74" y="891.41"/><use href="#mc" x="681.82" y="891.68"/><use href="#mc" x="684.9" y="891.96"/><use href="#mc" x="687.98" y="892.24"/><use href="#mc" x="691.06" y="892.52"/><use href="#mc" x="694.14" y="892.79"/><use href="#mc" x="697.22" y="893.06"/><use href="#mc" x="700.29" y="893.32"/><use href="#mc" x="703.37" y="893.57"/><use href="#mc" x="706.45" y="893.79"/><use href="#mc" x="709.53" y="894.01"/><use href="#mc" x="712.61" y="894.23"/><use href="#mc" x="715.69" y="894.45"/><use href="#mc" x="718.77" y="894.66"/><use href="#mc" x="721.85" y="894.86"/><use href="#mc" x="724.93" y="895.06"/><use href="#mc" x="728" y="895.26"/><use href="#mc" x="731.08" y="895.45"/><use href="#mc" x="734.16" y="895.64"/><use href="#mc" x="737.24" y="895.82"/>
</g>
<rect x="127.6" y="653.8" width="615.8" height="500.7" fill="none" stroke="#0000a8" stroke-width="4"/>
<path d="M127.6 1154.5v9.9M223.82 1154.5v9.9M320.04 1154.5v9.9M416.26 1154.5v9.9M512.48 1154.5v9.9M608.69 1154.5v9.9M704.91 1154.5v9.9" stroke="#0000a8" stroke-width="4" fill="none"/>
<path d="M175.71 1154.5v4.8M271.93 1154.5v4.8M368.15 1154.5v4.8M464.37 1154.5v4.8M560.58 1154.5v4.8M656.8 1154.5v4.8" stroke="#0000a8" stroke-width="4" fill="none"/>
<path d="M127.6 699.32h-9.9M127.6 790.35h-9.9M127.6 881.39h-9.9M127.6 972.43h-9.9M127.6 1063.46h-9.9M127.6 1154.5h-9.9" stroke="#0000a8" stroke-width="4" fill="none"/>
<path d="M127.6 653.8h-4.9M127.6 744.84h-4.9M127.6 835.87h-4.9M127.6 926.91h-4.9M127.6 1017.95h-4.9M127.6 1108.98h-4.9" stroke="#0000a8" stroke-width="4" fill="none"/>
<text x="117.7" y="1199.5" font-size="37.5" fill="#0000a8">0</text>
<text x="213.92" y="1199.5" font-size="37.5" fill="#0000a8">5</text>
<text x="298.64" y="1199.5" font-size="37.5" fill="#0000a8" textLength="39.97" lengthAdjust="spacing">10</text>
<text x="394.86" y="1199.5" font-size="37.5" fill="#0000a8" textLength="39.97" lengthAdjust="spacing">15</text>
<text x="493.08" y="1199.5" font-size="37.5" fill="#0000a8" textLength="37.4" lengthAdjust="spacing">20</text>
<text x="589.29" y="1199.5" font-size="37.5" fill="#0000a8" textLength="37.4" lengthAdjust="spacing">25</text>
<text x="685.51" y="1199.5" font-size="37.5" fill="#0000a8" textLength="37.4" lengthAdjust="spacing">30</text>
<text x="69.6" y="710.22" font-size="37.5" fill="#0000a8" textLength="39.97" lengthAdjust="spacing">10</text>
<text x="90.6" y="801.25" font-size="37.5" fill="#0000a8">0</text>
<text x="59.6" y="892.29" font-size="37.5" fill="#0000a8" textLength="49.81" lengthAdjust="spacing">-10</text>
<text x="59.6" y="983.33" font-size="37.5" fill="#0000a8" textLength="49.81" lengthAdjust="spacing">-20</text>
<text x="59.6" y="1074.36" font-size="37.5" fill="#0000a8" textLength="49.81" lengthAdjust="spacing">-30</text>
<text x="59.6" y="1165.4" font-size="37.5" fill="#0000a8" textLength="49.81" lengthAdjust="spacing">-40</text>
<text x="351.4" y="1251.2" font-size="51.4" fill="#0000a8" textLength="186.1" lengthAdjust="spacing">Time (h)</text>
<text x="58.2" y="1031" font-size="52" fill="#0000a8" textLength="122.81" lengthAdjust="spacing" transform="rotate(-90 58.2 1031)"><tspan font-style="italic">j</tspan> (mA</text>
<text x="58.2" y="892.7" font-size="52" fill="#0000a8" textLength="62.85" lengthAdjust="spacing" transform="rotate(-90 58.2 892.7)">cm</text>
<text x="47.4" y="829.2" font-size="58.5" fill="#0000a8" textLength="46.14" lengthAdjust="spacing" transform="rotate(-90 47.4 829.2)">-2</text>
<text x="58.2" y="782.6" font-size="52" fill="#0000a8" textLength="14.28" lengthAdjust="spacing" transform="rotate(-90 58.2 782.6)">)</text>
<text x="140.9" y="731.9" font-size="76" fill="#ff0000">c</text>
<path d="M267.6 692.3H340" stroke="#ff007f" stroke-width="5.5" stroke-linecap="round"/>
<use href="#mc" x="303.6" y="692.3"/>
<text x="349.6" y="703.3" font-size="40.5" fill="#0000a8" textLength="379.24" lengthAdjust="spacing">Chronoamperometry</text>
<text x="453.6" y="1116.8" font-size="39.7" fill="#ff007f" textLength="270.07" lengthAdjust="spacing">32 hrs Stability</text>
<path d="M933.6 824.5H1491" stroke="#0000ff" stroke-width="4.2" stroke-dasharray="13.8 20.24" stroke-linecap="round" fill="none"/>
<path d="M915 830L922 828.2L931.4 826.9L950.6 826.7L950.6 880.7L975 879.8L1009.3 878.6L1009.3 925.5L1068.4 926L1068.4 968.7L1126.7 971.4L1126.7 1012.4L1185.4 1014.1L1185.4 1053.8L1244.5 1054.1L1244.5 1015.6L1303.7 1016L1303.7 974.8L1362.4 975.4L1362.4 932.4L1420.4 931.7L1420.4 883.7L1479.4 882.8L1479.4 822L1489 821.8L1490 820.7L1542.4 820.7" fill="none" stroke="#008080" stroke-width="6" stroke-linejoin="miter" clip-path="url(#cd)"/>
<rect x="915" y="648.6" width="627.4" height="511.3" fill="none" stroke="#0000a8" stroke-width="4"/>
<path d="M1009.4 1159.9v11.3M1126.9 1159.9v11.3M1244.4 1159.9v11.3M1361.9 1159.9v11.3M1479.4 1159.9v11.3" stroke="#0000a8" stroke-width="4" fill="none"/>
<path d="M950.65 1159.9v6.8M1068.15 1159.9v6.8M1185.65 1159.9v6.8M1303.15 1159.9v6.8M1420.65 1159.9v6.8M1538.15 1159.9v6.8" stroke="#0000a8" stroke-width="4" fill="none"/>
<path d="M915 726.4h-12.3M915 866.8h-12.3M915 1007.2h-12.3M915 1147.6h-12.3" stroke="#0000a8" stroke-width="4" fill="none"/>
<path d="M915 656.2h-7.1M915 796.6h-7.1M915 937h-7.1M915 1077.4h-7.1" stroke="#0000a8" stroke-width="4" fill="none"/>
<text x="999.5" y="1206.2" font-size="37.5" fill="#0000a8">1</text>
<text x="1117.5" y="1206.2" font-size="37.5" fill="#0000a8">2</text>
<text x="1235" y="1206.2" font-size="37.5" fill="#0000a8">3</text>
<text x="1353" y="1206.2" font-size="37.5" fill="#0000a8">4</text>
<text x="1470" y="1206.2" font-size="37.5" fill="#0000a8">5</text>
<text x="848.6" y="737.3" font-size="38" fill="#0000a8" textLength="48.21" lengthAdjust="spacing">0.0</text>
<text x="836.6" y="877.7" font-size="38" fill="#0000a8" textLength="62.08" lengthAdjust="spacing">-0.2</text>
<text x="835.6" y="1018.1" font-size="38" fill="#0000a8" textLength="61.01" lengthAdjust="spacing">-0.4</text>
<text x="835.6" y="1158.5" font-size="38" fill="#0000a8" textLength="61.05" lengthAdjust="spacing">-0.6</text>
<text x="1144.5" y="1247.3" font-size="51.3" fill="#0000a8" textLength="188.73" lengthAdjust="spacing">Time (h)</text>
<text x="825.8" y="1111.4" font-size="51.5" fill="#0000a8" textLength="197.7" lengthAdjust="spacing" transform="rotate(-90 825.8 1111.4)">Potential</text>
<text x="825.8" y="901.8" font-size="51.5" fill="#0000a8" textLength="54.29" lengthAdjust="spacing" transform="rotate(-90 825.8 901.8)">(V</text>
<text x="825.8" y="832.2" font-size="51.5" fill="#0000a8" textLength="42.76" lengthAdjust="spacing" transform="rotate(-90 825.8 832.2)"><tspan font-style="italic">vs</tspan></text>
<text x="825.8" y="777.5" font-size="51.5" fill="#0000a8" textLength="110.99" lengthAdjust="spacing" transform="rotate(-90 825.8 777.5)">RHE</text>
<text x="825.8" y="667.1" font-size="51.5" fill="#0000a8" textLength="24.8" lengthAdjust="spacing" transform="rotate(-90 825.8 667.1)">)</text>
<text x="944.1" y="718.3" font-size="76" fill="#ff0000">d</text>
<path d="M1101.2 683.8H1162.3" stroke="#008080" stroke-width="6" stroke-linecap="round"/>
<text x="1172.1" y="693.1" font-size="35.6" fill="#0000a8" textLength="335.53" lengthAdjust="spacing">Multicurrent Stability</text>
<text x="1096.7" y="813.5" font-size="41.7" fill="#ff8000" textLength="293.13" lengthAdjust="spacing">100% Retention</text>
<text x="977.6" y="1109.1" font-size="41.2" fill="#ff007f" textLength="305.98" lengthAdjust="spacing">Step change (<tspan font-weight="normal">Δ</tspan>)=</text>
<text x="1291.8" y="1109.1" font-size="41.2" fill="#ff007f" textLength="107.95" lengthAdjust="spacing">10mA</text>
<text x="1411.9" y="1109.1" font-size="41.2" fill="#ff007f" textLength="88.88" lengthAdjust="spacing">cm<tspan dy="-0.444em">-2</tspan></text>
</svg>
</body></html>
